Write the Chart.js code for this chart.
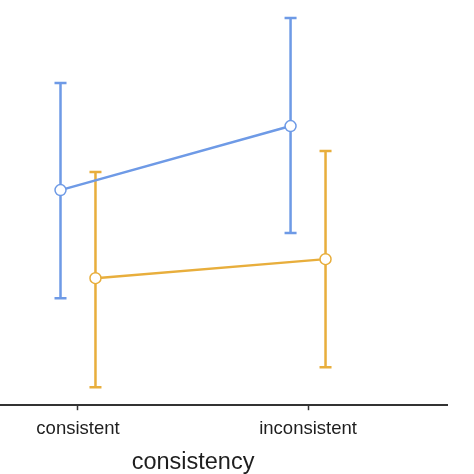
<!DOCTYPE html>
<html>
<head>
<meta charset="utf-8">
<script src="https://cdn.jsdelivr.net/npm/chart.js@4/dist/chart.umd.min.js"></script>
<style>
html,body{margin:0;padding:0;background:#fff;}
#wrap{width:474px;height:474px;position:relative;}
</style>
</head>
<body>
<div id="wrap"><canvas id="c" width="474" height="474"></canvas></div>
<script>
// Data
const categories = ["consistent", "inconsistent"];
const axisTitle = "consistency";
const seriesNames = ["A", "B"];
const blueMean = [2.15, 2.79];
const blueLow  = [1.07, 1.72];
const blueHigh = [3.22, 3.87];
const orangeMean = [1.27, 1.46];
const orangeLow  = [0.18, 0.38];
const orangeHigh = [2.33, 2.54];

const BLUE = "#6e9ae6";
const ORANGE = "#e8ae3c";
const DODGE = 0.076;
const FONT = "'Liberation Sans', Arial, sans-serif";

function pts(means, lows, highs, off) {
  return means.map((m, i) => ({x: i + off, y: m, lo: lows[i], hi: highs[i]}));
}

const errorBars = {
  id: "errorBars",
  beforeDatasetsDraw(chart) {
    const ctx = chart.ctx, xs = chart.scales.x, ys = chart.scales.y;
    chart.data.datasets.forEach(ds => {
      ctx.save();
      ctx.strokeStyle = ds.borderColor;
      ctx.lineWidth = 2.5;
      ds.data.forEach(p => {
        const px = xs.getPixelForValue(p.x);
        const yl = ys.getPixelForValue(p.lo);
        const yh = ys.getPixelForValue(p.hi);
        ctx.beginPath();
        ctx.moveTo(px, yl); ctx.lineTo(px, yh);
        ctx.moveTo(px - 6, yl); ctx.lineTo(px + 6, yl);
        ctx.moveTo(px - 6, yh); ctx.lineTo(px + 6, yh);
        ctx.stroke();
      });
      ctx.restore();
    });
  }
};

const xTitle = {
  id: "xTitle",
  afterDraw(chart) {
    const ctx = chart.ctx, xs = chart.scales.x;
    const cx = xs.getPixelForValue((categories.length - 1) / 2);
    ctx.save();
    ctx.fillStyle = "#1e1e1e";
    ctx.font = "23.5px " + FONT;
    ctx.textAlign = "center";
    ctx.textBaseline = "middle";
    ctx.fillText(axisTitle, cx, 463);
    ctx.restore();
  }
};

new Chart(document.getElementById("c"), {
  type: "line",
  data: {
    datasets: [
      {label: seriesNames[0], data: pts(blueMean, blueLow, blueHigh, -DODGE),
       borderColor: BLUE, backgroundColor: "#ffffff", borderWidth: 2.5,
       pointRadius: 5.5, pointBorderWidth: 1.5, pointBackgroundColor: "#ffffff", pointBorderColor: BLUE},
      {label: seriesNames[1], data: pts(orangeMean, orangeLow, orangeHigh, DODGE),
       borderColor: ORANGE, backgroundColor: "#ffffff", borderWidth: 2.5,
       pointRadius: 5.5, pointBorderWidth: 1.5, pointBackgroundColor: "#ffffff", pointBorderColor: ORANGE}
    ]
  },
  options: {
    responsive: false,
    animation: false,
    layout: {autoPadding: false, padding: {left: 0, right: 27, top: 0, bottom: 25.6}},
    plugins: {legend: {display: false}, tooltip: {enabled: false}},
    scales: {
      x: {
        type: "linear",
        min: -0.339, max: 1.604,
        afterBuildTicks(s) { s.ticks = categories.map((c, i) => ({value: i})); },
        ticks: {
          callback: (v) => categories[v] ?? "",
          color: "#1e1e1e",
          font: {family: FONT, size: 18.5},
          padding: 8, maxRotation: 0, autoSkip: false
        },
        grid: {drawOnChartArea: false, drawTicks: true, tickLength: 5, color: "#333333", tickWidth: 1.5},
        border: {display: true, color: "#333333", width: 2}
      },
      y: {
        min: 0, max: 4.05,
        display: false
      }
    }
  },
  plugins: [errorBars, xTitle]
});
</script>
</body>
</html>
